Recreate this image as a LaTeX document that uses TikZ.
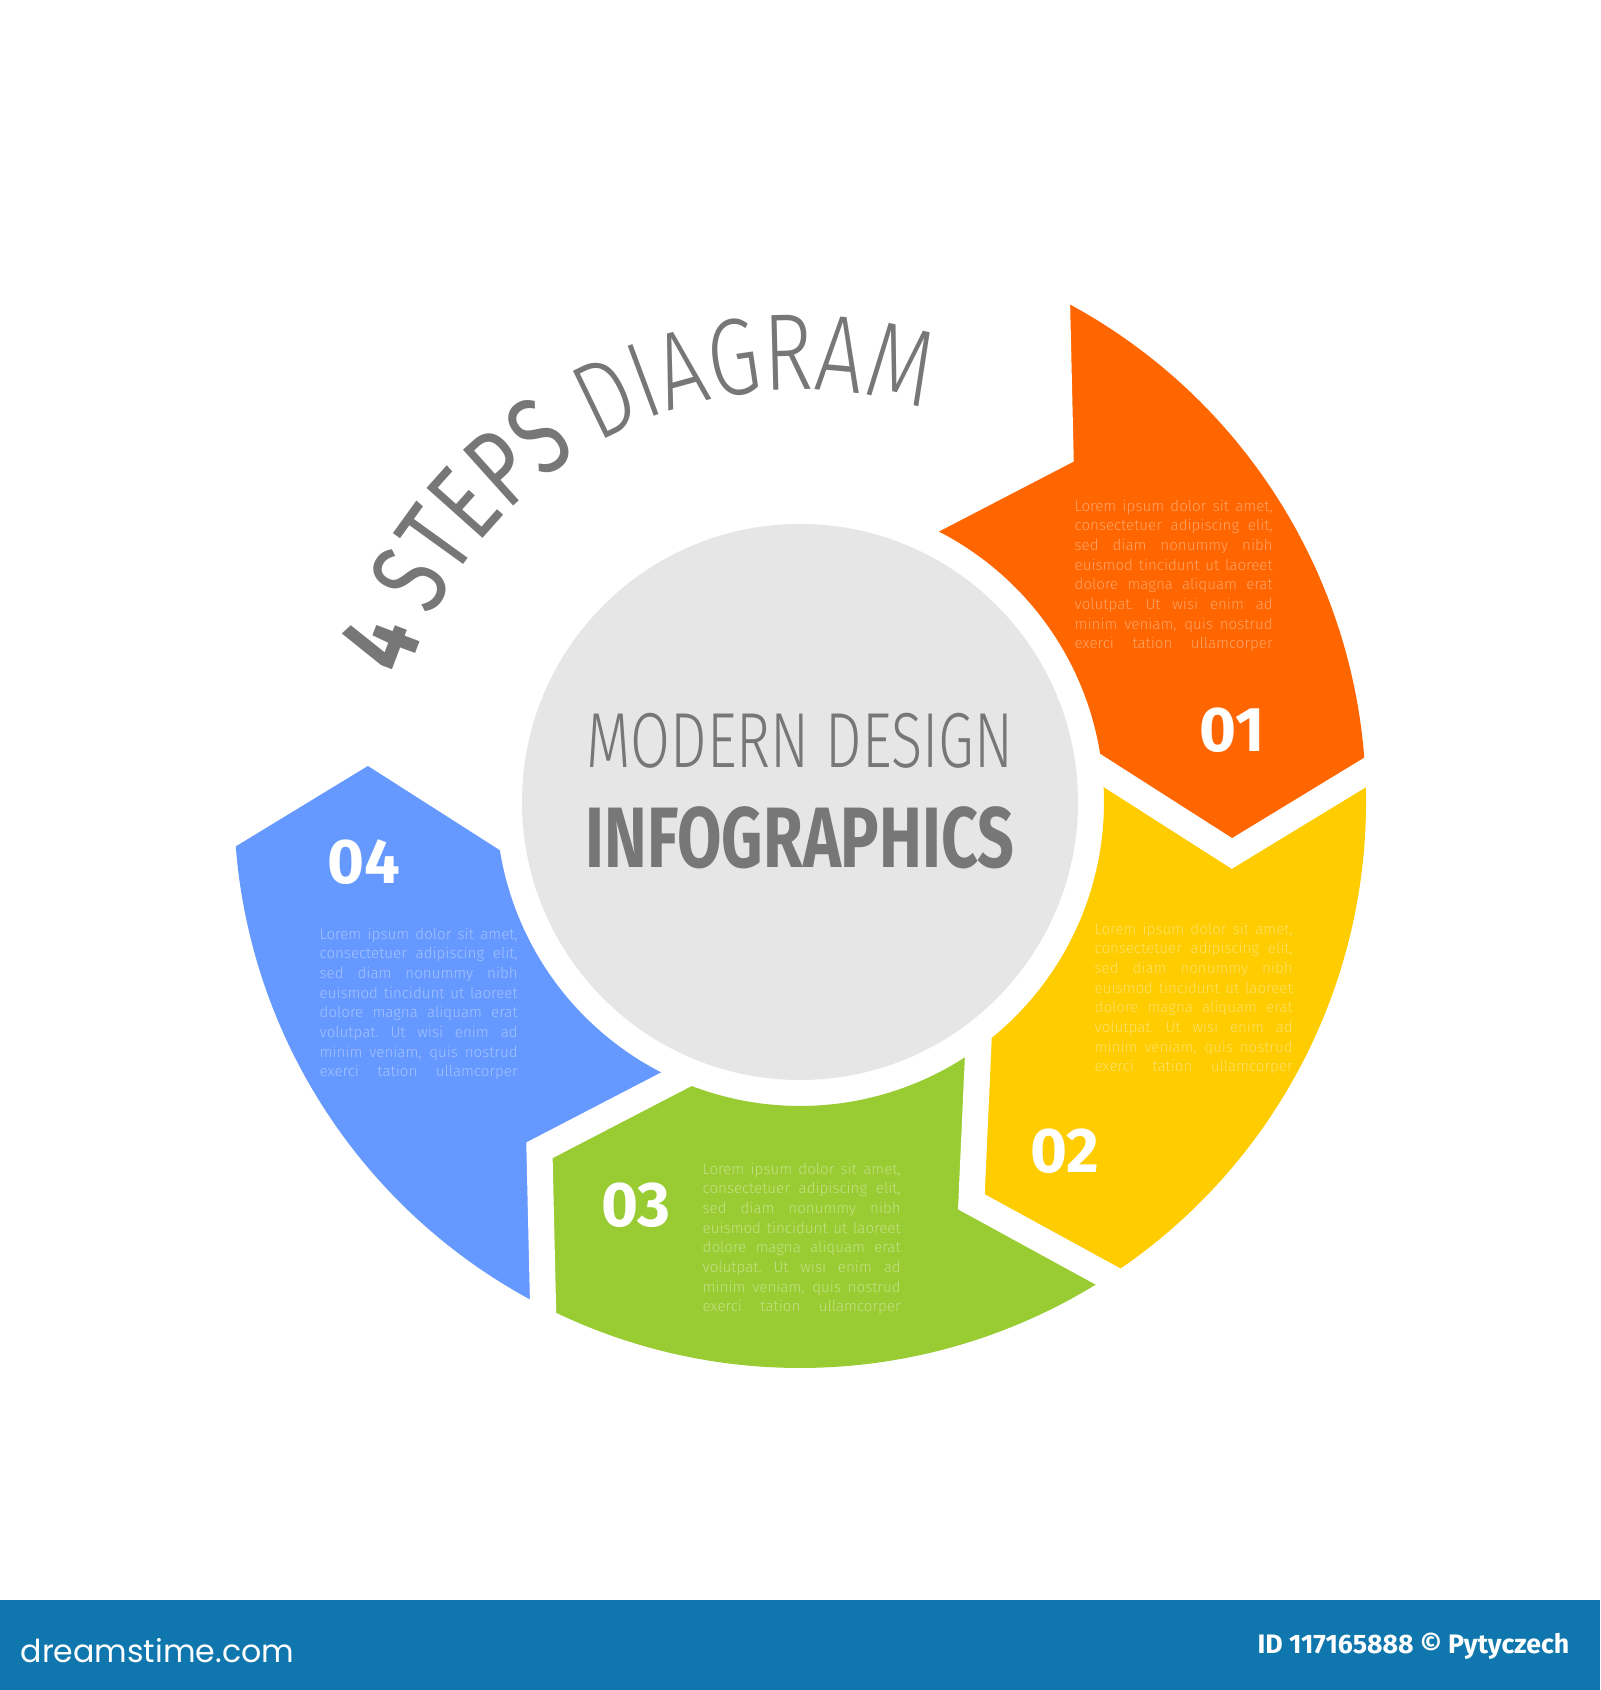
\documentclass[tikz,border=0pt]{standalone}
\usepackage{fontspec}
\usepackage{xcolor}
\usetikzlibrary{decorations.text}

\setmainfont{Fira Sans}
\newfontfamily\condfont{Fira Sans}[FakeStretch=0.75]
\newfontfamily\thinfont{Fira Sans Light}[FakeStretch=0.74]
\newfontfamily\arcthinfont{Fira Sans Light}[FakeStretch=0.77]
\newfontfamily\loremfont{Fira Sans Light}
\newfontfamily\logofont{Poppins}

\definecolor{stepone}{HTML}{FF6600}
\definecolor{steptwo}{HTML}{FFCC00}
\definecolor{stepthree}{HTML}{99CC33}
\definecolor{stepfour}{HTML}{6699FF}
\definecolor{hubgray}{HTML}{E6E6E6}
\definecolor{titlegray}{HTML}{777777}
\definecolor{barblue}{HTML}{1077AE}

\newcommand{\arcbold}{\condfont\bfseries\fontsize{31}{31}\selectfont}
\newcommand{\arcreg}{\condfont\mdseries\fontsize{31}{31}\selectfont}
\newcommand{\arcthin}{\arcthinfont\fontsize{31}{31}\selectfont}

% one justified line of the filler text
\newcommand{\lorline}[1]{\leavevmode\hbox to 1.98cm{\spaceskip=0.2em plus 1fil\xspaceskip=0.2em plus 1fil\relax #1}}
\newcommand{\loremtext}{%
\lorline{Lorem ipsum dolor sit amet,}\\
\lorline{consectetuer adipiscing elit,}\\
\lorline{sed diam nonummy nibh}\\
\lorline{euismod tincidunt ut laoreet}\\
\lorline{dolore magna aliquam erat}\\
\lorline{volutpat. Ut wisi enim ad}\\
\lorline{minim veniam, quis nostrud}\\
\lorline{exerci tation ullamcorper}}

\tikzset{
    gap-line/.style = {draw=white, line width=0.26cm, shorten <=-0.2cm, shorten >=-0.2cm},
    hub-disc/.style = {circle, fill=hubgray, minimum size=5.56cm, inner sep=0pt},
    step-num/.style = {text=white, inner sep=0pt, font=\fontsize{18}{18}\selectfont\bfseries},
    lorem-box/.style = {anchor=north west, inner sep=0pt, text width=1.98cm, text=white, text opacity=0.4, font=\loremfont\fontsize{4.3}{5.6}\selectfont},
    hub-thin/.style = {anchor=base, inner sep=0pt, text=titlegray, font=\thinfont\fontsize{22.2}{22.2}\selectfont},
    hub-bold/.style = {anchor=base, inner sep=0pt, text=titlegray, font=\condfont\bfseries\fontsize{24.4}{24.4}\selectfont},
    bar-text/.style = {inner sep=0pt, text=white},
}

\begin{document}
\begin{tikzpicture}
\useasboundingbox (0,0) rectangle (16,16.9);
\fill[white] (0,0) rectangle (16,16.9);
\def\ringout{5.66}
\def\ringmid{4.35}
\def\ringin{3.04}
\begin{scope}[shift={(8,8.88)}]
% four arrows round the hub: notch at the tail, point at the head
\foreach \col [count=\i from 0] in {stepone,steptwo,stepthree,stepfour} {
    \pgfmathsetmacro{\a}{63-60*\i}
    \pgfmathsetmacro{\b}{\a-60}
    \fill[\col] (\a:\ringout) arc[start angle=\a, end angle=\b, radius=\ringout]
        -- ({\b-9.8}:\ringmid) -- ({\b+2.9}:\ringin)
        arc[start angle={\b+2.9}, end angle={\a+2.9}, radius=\ringin]
        -- ({\a-9.8}:\ringmid) -- cycle;
}
\foreach \a in {63,3,-57,-117,-177}
    \draw[gap-line] (\a:\ringout) -- ({\a-9.8}:\ringmid) -- ({\a+2.9}:\ringin);
\node[hub-disc] (hub) at (0,0) {};
% title on the arc
\path[decorate, decoration={text along path, text align=center, text color=titlegray,
    text={|\arcbold|4 |\arcreg|STEPS |\arcthin|DIAGRAM}}]
    (177.5:4.12) arc[start angle=177.5, end angle=57.5, radius=4.12];
\end{scope}

\node[hub-thin] (modern) at (8,9.22) {MODERN DESIGN};
\node[hub-bold] (infog) at (8,8.22) {INFOGRAPHICS};

\node[step-num] (num1) at (12.32,9.60) {01};
\node[step-num] (num2) at (10.65,5.39) {02};
\node[step-num] (num3) at (6.36,4.85) {03};
\node[step-num] (num4) at (3.64,8.28) {04};

\node[lorem-box] (text1) at (10.74,11.91) {\loremtext};
\node[lorem-box] (text2) at (10.94,7.68) {\loremtext};
\node[lorem-box] (text3) at (7.02,5.28) {\loremtext};
\node[lorem-box] (text4) at (3.19,7.63) {\loremtext};

% credit bar
\fill[barblue] (0,0) rectangle (16,0.9);
\node[bar-text, anchor=base west, font=\logofont\fontsize{9}{9}\selectfont] (logo) at (0.2,0.27) {dreamstime.com};
\node[bar-text, anchor=base east, font=\bfseries\fontsize{7.6}{7.6}\selectfont] (credit) at (15.7,0.37) {ID 117165888 © Pytyczech};
\end{tikzpicture}
\end{document}
